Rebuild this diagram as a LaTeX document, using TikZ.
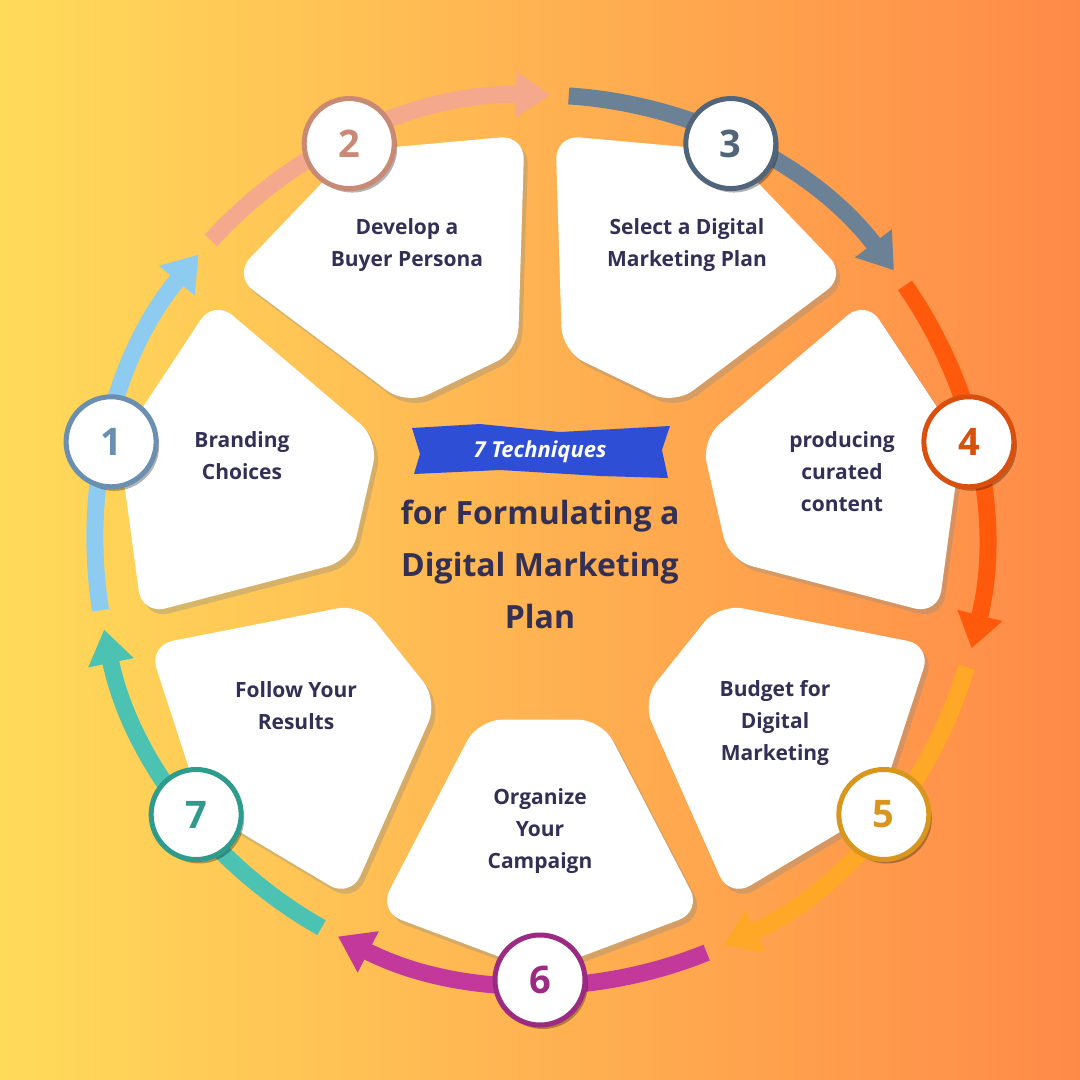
\documentclass[tikz,border=0pt]{standalone}
\usepackage{fontspec}
\setmainfont{Open Sans}
\usetikzlibrary{arrows.meta,shadows,positioning}
\definecolor{navy}{HTML}{332F55}
\definecolor{bgL}{HTML}{FFDB5A}
\definecolor{bgR}{HTML}{FF8A48}
\definecolor{cA}{HTML}{8DCBF0}
\definecolor{cB}{HTML}{F5A98C}
\definecolor{cC}{HTML}{6B8296}
\definecolor{cD}{HTML}{FF5A0C}
\definecolor{cE}{HTML}{FFA726}
\definecolor{cF}{HTML}{C2399B}
\definecolor{cG}{HTML}{4CC3B2}
\definecolor{numA}{HTML}{6A8FB0}
\definecolor{numB}{HTML}{C88A74}
\definecolor{numC}{HTML}{50647A}
\definecolor{numD}{HTML}{D9500E}
\definecolor{numE}{HTML}{D9961E}
\definecolor{numF}{HTML}{9A2A82}
\definecolor{numG}{HTML}{2E9C8C}
\definecolor{brush}{HTML}{2F4ED6}
\tikzset{
  card/.style={fill=white, rounded corners=24pt, drop shadow={shadow xshift=4pt, shadow yshift=-5pt, fill=black!45, opacity=.35}},
  cardtext/.style={text=navy, font=\fontsize{21}{32}\selectfont\bfseries, align=center},
  numring/.style={circle, minimum size=90pt, fill=white, line width=5pt, font=\fontsize{38}{38}\selectfont\bfseries, drop shadow={shadow xshift=3pt, shadow yshift=-4pt, fill=black, opacity=.3}},
  ringarrow/.style={line width=17pt, -{Triangle[length=34pt,width=44pt]}}
}
\begin{document}
\begin{tikzpicture}[x=1pt,y=1pt]
\shade[left color=bgL, right color=bgR] (-540,-540) rectangle (540,540);
\useasboundingbox (-540,-540) rectangle (540,540);

% ring arrows
\foreach \a/\c in {167.1/cA, 115.7/cB, 64.3/cC, 12.9/cD, -38.6/cE, -90/cF, -141.4/cG}
  \draw[ringarrow, \c] (\a+22:445) arc[start angle=\a+22, end angle=\a-27, radius=445];

% cards
\foreach \a in {167.1, 115.7, 64.3, 12.9, -38.6, -90, -141.4}
  \path[card] (\a-19:190) -- (\a-23.5:405) -- (\a:432) -- (\a+23.5:405) -- (\a+19:190) -- cycle;

% card texts
\node[cardtext] (t1) at (-298,84) {Branding\\Choices};
\node[cardtext] (t2) at (-133,295) {Develop a\\Buyer Persona};
\node[cardtext] (t3) at (147,295) {Select a Digital\\Marketing Plan};
\node[cardtext] (t4) at (302,68) {producing\\curated\\content};
\node[cardtext] (t5) at (235,-183) {Budget for\\Digital\\Marketing};
\node[cardtext] (t6) at (0,-291) {Organize\\Your\\Campaign};
\node[cardtext] (t7) at (-244,-166) {Follow Your\\Results};

% number circles
\foreach \a/\n/\c in {167.1/1/numA, 115.7/2/numB, 64.3/3/numC, 12.9/4/numD, -38.6/5/numE, -90/6/numF, -141.4/7/numG}
  \node[numring, draw=\c, text=\c] (n\n) at (\a:440) {\n};

% title
\fill[brush] (-128,112) -- (-120,86) -- (-126,66) -- (-40,70) -- (60,64) -- (128,62) -- (122,90) -- (130,114) -- (20,108) -- (-60,116) -- cycle;
\node[text=white, font=\fontsize{22}{22}\selectfont\bfseries\itshape] (tag) at (0,88) {7 Techniques};
\node[text=navy, font=\fontsize{32}{52}\selectfont\bfseries, align=center, below=30pt of tag] (title) {for Formulating a\\Digital Marketing\\Plan};
\end{tikzpicture}
\end{document}
